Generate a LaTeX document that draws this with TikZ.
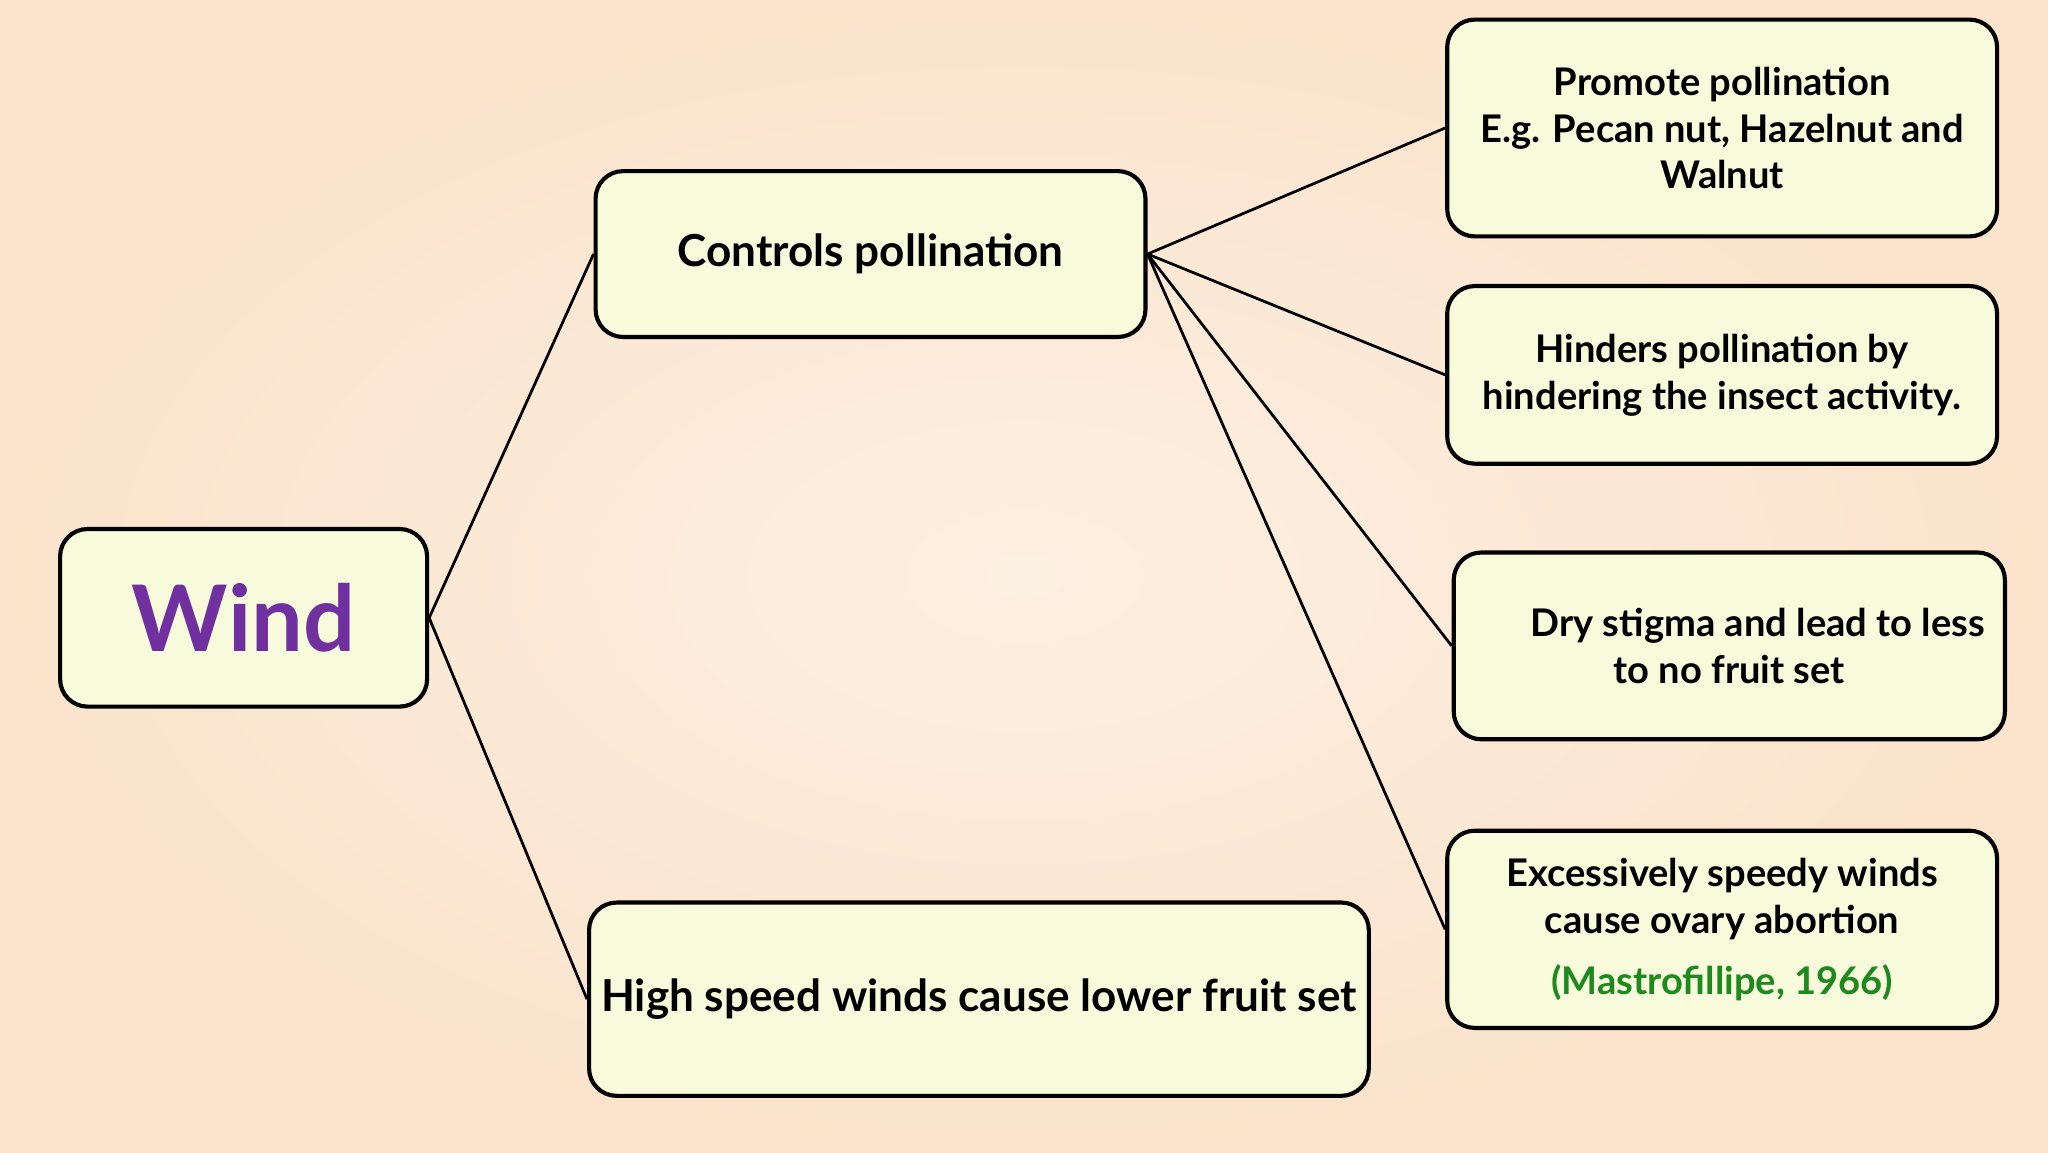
\documentclass[tikz,border=0pt]{standalone}
\usepackage{fontspec}
\setmainfont{Lato}
\usetikzlibrary{positioning}
\definecolor{boxfill}{HTML}{F8FADC}
\definecolor{windpurple}{HTML}{7030A0}
\definecolor{citegreen}{HTML}{1E8A1E}
\definecolor{bgpeach}{HTML}{FBE3CC}
\definecolor{bglight}{HTML}{FCF0E2}
\tikzset{
  infobox/.style={draw=black, line width=0.9pt, rounded corners=6pt, fill=boxfill,
    align=center, font=\bfseries\fontsize{8.3}{10.2}\selectfont, inner sep=2pt},
  bigtext/.style={font=\bfseries\fontsize{9.6}{11}\selectfont},
  link/.style={line width=0.6pt}
}
\begin{document}
\begin{tikzpicture}
\shade[inner color=bglight, outer color=bgpeach] (0,0) rectangle (15.68,8.82);
\useasboundingbox (0,0) rectangle (15.68,8.82);
% boxes
\node[infobox, minimum width=2.81cm, minimum height=1.36cm, font=\bfseries\fontsize{20}{23}\selectfont, text=windpurple] (wind) at (1.865,4.09) {Wind};
\node[infobox, bigtext, minimum width=4.21cm, minimum height=1.27cm] (ctrl) at (6.665,6.875) {Controls pollination};
\node[infobox, bigtext, minimum width=5.97cm, minimum height=1.48cm] (high) at (7.495,1.17) {High speed winds cause lower fruit set};
\node[infobox, minimum width=4.21cm, minimum height=1.66cm] (promote) at (13.185,7.84) {Promote pollination\\E.g. Pecan nut, Hazelnut and\\Walnut};
\node[infobox, minimum width=4.21cm, minimum height=1.36cm] (hinder) at (13.185,5.95) {Hinders pollination by\\hindering the insect activity.};
\node[infobox, minimum width=4.22cm, minimum height=1.43cm] (dry) at (13.24,3.875) {\hspace{1.5em}Dry stigma and lead to less\\to no fruit set};
\node[infobox, minimum width=4.21cm, minimum height=1.51cm] (excess) at (13.185,1.705) {Excessively speedy winds\\cause ovary abortion\\[3pt]{\color{citegreen}(Mastrofillipe, 1966)}};
% connectors
\draw[link] (wind.east) -- (ctrl.west);
\draw[link] (wind.east) -- (high.west);
\foreach \t in {promote, hinder, dry, excess}
  \draw[link] (ctrl.east) -- (\t.west);
\end{tikzpicture}
\end{document}
